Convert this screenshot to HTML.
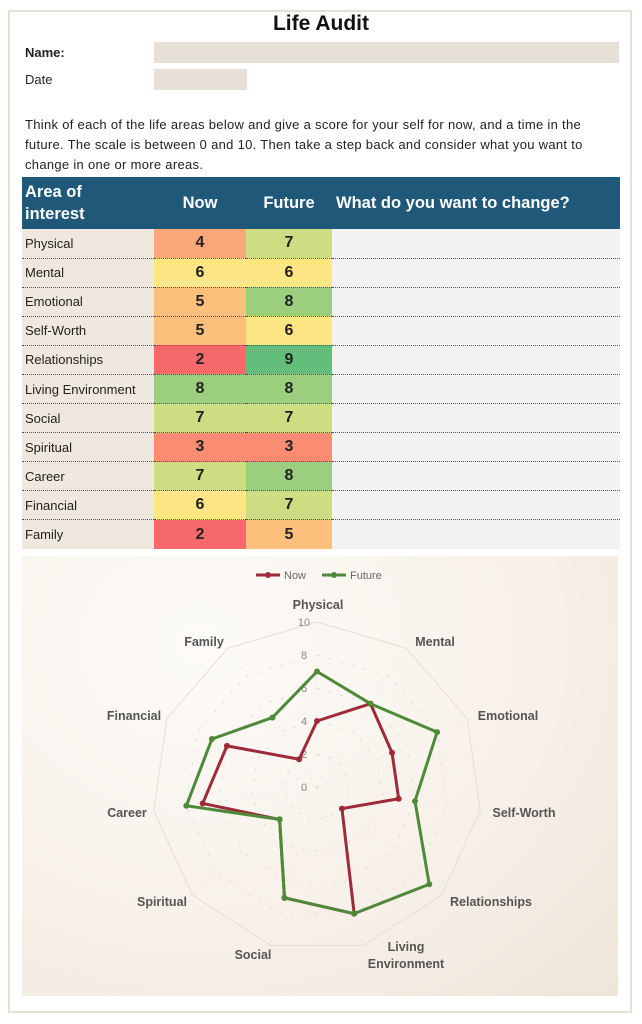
<!DOCTYPE html>
<html><head><meta charset="utf-8"><style>
*{margin:0;padding:0;box-sizing:border-box}
body{width:642px;height:1024px;background:#fff;font-family:"Liberation Sans",sans-serif;position:relative;overflow:hidden}
.frame{position:absolute;left:8px;top:10px;width:624px;height:1003px;border:2px solid #e6e0d4}
.abs{position:absolute}
h1{position:absolute;left:0;width:642px;top:12px;text-align:center;font-size:21px;font-weight:bold;color:#111}
.fld{background:#e6e0d6}
.txt{font-size:13px;color:#222}
table{position:absolute;left:22px;top:177px;width:598px;border-collapse:collapse;font-size:13px}
th{background:#1f5878;color:#fff;font-size:16.5px;font-weight:bold;height:52px;text-align:center}
td{height:29.1px;border-bottom:1px dotted #555;padding:0}
tr:last-child td{border-bottom:none}
td.l{background:#eee8de;padding-left:3px;color:#222;width:132px}
td.n{width:92px;text-align:center;font-weight:bold;font-size:16px;color:#222}
td.f{width:86px;text-align:center;font-weight:bold;font-size:16px;color:#222}
td.c{background:#f3f2f1}
.chart{position:absolute;left:22px;top:556px;width:596px;height:440px;background:radial-gradient(ellipse at 30% 20%,#fdfbf8 0%,#f6f0e8 60%,#efe5d8 100%)}
</style></head><body>
<div class="frame"></div>
<h1>Life Audit</h1>
<div class="abs txt" style="left:25px;top:45px;font-weight:bold">Name:</div>
<div class="abs fld" style="left:154px;top:42px;width:465px;height:21px"></div>
<div class="abs txt" style="left:25px;top:72px">Date</div>
<div class="abs fld" style="left:154px;top:69px;width:93px;height:21px"></div>
<div class="abs txt" style="left:25px;top:115px;width:600px;line-height:20px;white-space:nowrap;letter-spacing:0.3px">Think of each of the life areas below and give a score for your self for now, and a time in the<br>future. The scale is between 0 and 10. Then take a step back and consider what you want to<br>change in one or more areas.</div>
<table>
<tr><th style="text-align:left;padding-left:3px;line-height:22px">Area of<br>interest</th><th>Now</th><th>Future</th><th style="text-align:left;padding-left:4px">What do you want to change?</th></tr>
<tr><td class="l">Physical</td><td class="n" style="background:#fba777">4</td><td class="f" style="background:#cddd82">7</td><td class="c"></td></tr>
<tr><td class="l">Mental</td><td class="n" style="background:#ffe684">6</td><td class="f" style="background:#ffe684">6</td><td class="c"></td></tr>
<tr><td class="l">Emotional</td><td class="n" style="background:#fdc07c">5</td><td class="f" style="background:#9bcf7e">8</td><td class="c"></td></tr>
<tr><td class="l">Self-Worth</td><td class="n" style="background:#fdc07c">5</td><td class="f" style="background:#ffe684">6</td><td class="c"></td></tr>
<tr><td class="l">Relationships</td><td class="n" style="background:#f8696b">2</td><td class="f" style="background:#63be7b">9</td><td class="c"></td></tr>
<tr><td class="l">Living Environment</td><td class="n" style="background:#9bcf7e">8</td><td class="f" style="background:#9bcf7e">8</td><td class="c"></td></tr>
<tr><td class="l">Social</td><td class="n" style="background:#cddd82">7</td><td class="f" style="background:#cddd82">7</td><td class="c"></td></tr>
<tr><td class="l">Spiritual</td><td class="n" style="background:#fa8c71">3</td><td class="f" style="background:#fa8c71">3</td><td class="c"></td></tr>
<tr><td class="l">Career</td><td class="n" style="background:#cddd82">7</td><td class="f" style="background:#9bcf7e">8</td><td class="c"></td></tr>
<tr><td class="l">Financial</td><td class="n" style="background:#ffe684">6</td><td class="f" style="background:#cddd82">7</td><td class="c"></td></tr>
<tr><td class="l">Family</td><td class="n" style="background:#f8696b">2</td><td class="f" style="background:#fdc07c">5</td><td class="c"></td></tr>
</table>
<div class="chart"></div>
<svg class="abs" style="left:0;top:0" width="642" height="1024" id="s" font-family="Liberation Sans, sans-serif">
<g font-size="11" fill="#555">
<line x1="256" y1="575" x2="280" y2="575" stroke="#9e2a3a" stroke-width="3"/><circle cx="268" cy="575" r="3" fill="#9e2a3a"/>
<text x="284" y="579" fill="#666">Now</text>
<line x1="322" y1="575" x2="346" y2="575" stroke="#4e8a3a" stroke-width="3"/><circle cx="334" cy="575" r="3" fill="#4e8a3a"/>
<text x="350" y="579" fill="#666">Future</text>
</g>
<g font-size="12.5" fill="#555" font-weight="bold" text-anchor="middle">
<text x="318" y="609">Physical</text>
<text x="435" y="646">Mental</text>
<text x="508" y="720">Emotional</text>
<text x="524" y="817">Self-Worth</text>
<text x="491" y="906">Relationships</text>
<text x="406" y="951">Living</text>
<text x="406" y="968">Environment</text>
<text x="253" y="959">Social</text>
<text x="162" y="906">Spiritual</text>
<text x="127" y="817">Career</text>
<text x="134" y="720">Financial</text>
<text x="204" y="646">Family</text>
</g>
<g id="grid"></g>
<g id="ser"></g>
</svg>
<script>
var cx=317,cy=787,u=16.5,N=11;
function pt(k,v){var a=k*2*Math.PI/N;return [cx+v*u*Math.sin(a),cy-v*u*Math.cos(a)];}
var g=document.getElementById('grid'),h='';
for(var r=2;r<=10;r+=2){var p=[];for(var k=0;k<N;k++)p.push(pt(k,r).join(','));
h+='<polygon points="'+p.join(' ')+'" fill="none" stroke="#e4ded6" stroke-width="1"'+(r<10?' stroke-dasharray="3,9"':'')+'/>';}
for(var k=0;k<N;k++){var q=pt(k,10);h+='<line x1="'+cx+'" y1="'+cy+'" x2="'+q[0]+'" y2="'+q[1]+'" stroke="#ece6de" stroke-dasharray="2,8"/>';}
for(var r=0;r<=10;r+=2){h+='<text x="'+(cx-13)+'" y="'+(cy-r*u+4)+'" font-size="11" fill="#888" text-anchor="middle">'+r+'</text>';}
g.innerHTML=h;
var now=[4,6,5,5,2,8,7,3,7,6,2],fut=[7,6,8,6,9,8,7,3,8,7,5],s='';
[[now,'#9e2a3a'],[fut,'#4e8a3a']].forEach(function(d){var p=[],c='';
for(var k=0;k<N;k++){var q=pt(k,d[0][k]);p.push(q.join(','));c+='<circle cx="'+q[0]+'" cy="'+q[1]+'" r="3" fill="'+d[1]+'"/>';}
s+='<polygon points="'+p.join(' ')+'" fill="none" stroke="'+d[1]+'" stroke-width="3" stroke-linejoin="round"/>'+c;});
document.getElementById('ser').innerHTML=s;
</script>
</body></html>
